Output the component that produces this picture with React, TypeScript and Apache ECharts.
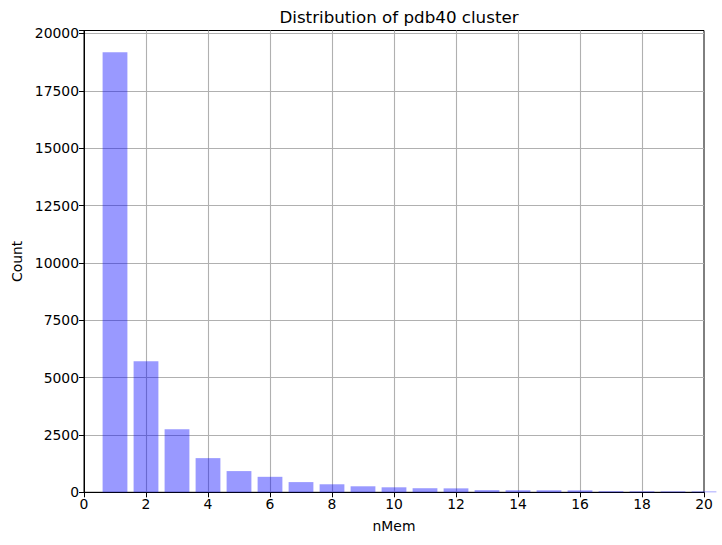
import React, { useEffect, useRef } from 'react';
import * as echarts from 'echarts';

// values (bars of width 0.8 centred on each nMem)
const nMem = [1, 2, 3, 4, 5, 6, 7, 8, 9, 10, 11, 12, 13, 14, 15, 16, 17, 18, 19, 20];
const counts = [19180, 5710, 2750, 1490, 925, 675, 445, 350, 262, 218, 178, 172, 95, 90, 88, 84, 46, 42, 40, 38];
const yTicks = [0, 2500, 5000, 7500, 10000, 12500, 15000, 17500, 20000];

const FONT = 'DejaVu Sans';

export default function App() {
  const chartRef = useRef<HTMLDivElement>(null);

  useEffect(() => {
    const chart = echarts.init(chartRef.current!, undefined, { renderer: 'svg' });

    const options = {
      animation: false,
      textStyle: { fontFamily: FONT },
      title: {
        text: 'Distribution of pdb40 cluster',
        left: 394,
        top: 3,
        textAlign: 'center',
        textStyle: { fontFamily: FONT, fontSize: 16.7, fontWeight: 'normal', color: '#000' },
      },
      grid: {
        left: 84,
        right: 18,
        top: 30.5,
        bottom: 52.7,
        show: true,
        borderColor: '#000',
        borderWidth: 1,
        backgroundColor: 'transparent',
      },
      xAxis: {
        type: 'value',
        min: 0,
        max: 20,
        interval: 2,
        name: 'nMem',
        nameLocation: 'middle',
        nameGap: 27,
        nameTextStyle: { fontSize: 13.9, color: '#000', fontFamily: FONT },
        axisLine: { show: true, onZero: false, lineStyle: { color: '#000', width: 1 } },
        axisTick: { show: true, length: 5, lineStyle: { color: '#000' } },
        axisLabel: { fontSize: 13.9, color: '#000', margin: 5, fontFamily: FONT },
        splitLine: { show: true, showMinLine: false, showMaxLine: false, lineStyle: { color: '#b0b0b0', width: 1.1 } },
      },
      yAxis: {
        type: 'value',
        min: 0,
        max: 20130,
        interval: 2500,
        name: 'Count',
        nameLocation: 'middle',
        nameGap: 60,
        nameTextStyle: { fontSize: 13.9, color: '#000', fontFamily: FONT },
        axisLine: { show: true, lineStyle: { color: '#000', width: 1 } },
        axisTick: { show: true, length: 5, lineStyle: { color: '#000' } },
        axisLabel: {
          fontSize: 13.9,
          color: '#000',
          margin: 5,
          fontFamily: FONT,
          formatter: (v: number) => (yTicks.includes(v) ? String(v) : ''),
        },
        splitLine: { show: true, showMinLine: false, showMaxLine: false, lineStyle: { color: '#b0b0b0', width: 1.1 } },
      },
      series: [
        {
          type: 'bar',
          data: nMem.map((x, i) => [x, counts[i]]),
          barWidth: 24.8,
          itemStyle: { color: 'rgba(0,0,255,0.4)' },
          clip: true,
        },
      ],
    };

    chart.setOption(options);

    return () => {
      chart.dispose();
    };
  }, []);

  return (
    <div style={{ position: 'absolute', left: 0, top: 0, width: '722px', height: '545px', background: 'white' }}>
      <div ref={chartRef} style={{ width: '722px', height: '545px' }} />
    </div>
  );
}
